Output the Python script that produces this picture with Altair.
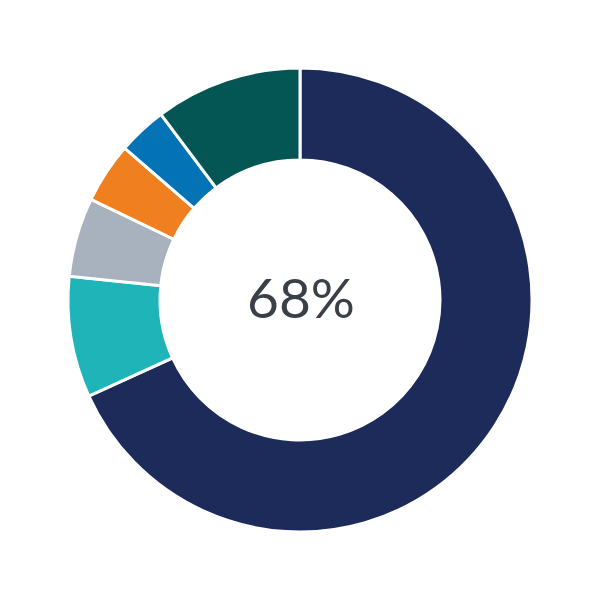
import altair as alt
import pandas as pd

categories = ["A", "B", "C", "D", "E", "F"]
values = [68.0, 8.4, 5.5, 4.2, 3.4, 10.2]
colors = ["#1c2b5a", "#1fb5b8", "#a8b2bf", "#f07f1f", "#0473b5", "#045655"]
center_label = "68%"

df = pd.DataFrame({"cat": categories, "value": values, "idx": list(range(len(categories)))})

base = alt.Chart(df)

arcs = base.mark_arc(innerRadius=140, outerRadius=232, stroke="white", strokeWidth=3).encode(
    theta=alt.Theta("value:Q", stack=True),
    color=alt.Color("cat:N", scale=alt.Scale(domain=categories, range=colors), legend=None),
    order=alt.Order("idx:Q", sort="ascending"),
)

text = alt.Chart(pd.DataFrame({"t": [center_label]})).mark_text(
    font="Lato", fontWeight="normal", fontSize=55, color="#3a4048", align="center", baseline="middle"
).encode(text="t:N", x=alt.value(288), y=alt.value(288))

chart = alt.layer(arcs, text).properties(
    width=584, height=584, autosize=alt.AutoSizeParams(type="fit", contains="padding")
).configure_view(stroke=None)

chart.save("out.html", embed_options={"renderer": "svg", "actions": False})
